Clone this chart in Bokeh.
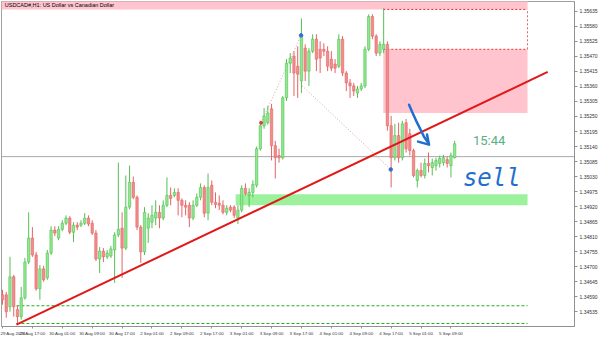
import numpy as np
from bokeh.plotting import figure
from bokeh.models import Range1d, FixedTicker, PrintfTickFormatter, ColumnDataSource, Label
from bokeh.embed import file_html
from bokeh.resources import INLINE
from bokeh.core.properties import value

# ---------------- data (USDCAD H1, 29 Aug 2024 09:00 -> 5 Sep 2024 10:00) ----------------
opens = [
    1.34597, 1.34597, 1.34553, 1.34663, 1.34543, 1.34517, 1.34586, 1.34717, 1.34805, 1.34743,
    1.34619, 1.34692, 1.34659, 1.34750, 1.34834, 1.34805, 1.34837, 1.34859, 1.34878, 1.34826,
    1.34852, 1.34852, 1.34859, 1.34878, 1.34859, 1.34823, 1.34728, 1.34757, 1.34736, 1.34739,
    1.34761, 1.34816, 1.34841, 1.34768, 1.34918, 1.35009, 1.34954, 1.34845, 1.34754, 1.34841,
    1.34863, 1.34878, 1.34899, 1.34878, 1.34925, 1.34961, 1.34961, 1.34972, 1.34943, 1.34925,
    1.34925, 1.34878, 1.34925, 1.34954, 1.34990, 1.34896, 1.34998, 1.34936, 1.34932, 1.34925,
    1.34899, 1.34918, 1.34918, 1.34878, 1.34907, 1.34987, 1.34961, 1.34972, 1.34998, 1.35132,
    1.35216, 1.35227, 1.35278, 1.35143, 1.35107, 1.35099, 1.35318, 1.35445, 1.35471, 1.35434,
    1.35380, 1.35500, 1.35416, 1.35489, 1.35533, 1.35496, 1.35496, 1.35489, 1.35460, 1.35442,
    1.35434, 1.35533, 1.35409, 1.35373, 1.35362, 1.35336, 1.35351, 1.35362, 1.35496, 1.35616,
    1.35544, 1.35482, 1.35496, 1.35514, 1.35216, 1.35099, 1.35180, 1.35099, 1.35227, 1.35187,
    1.35125, 1.35016, 1.35052, 1.35034, 1.35078, 1.35063, 1.35070, 1.35078, 1.35081, 1.35092,
    1.35070, 1.35099,
]
highs = [
    1.34615, 1.34608, 1.34736, 1.34670, 1.34557, 1.34626, 1.34732, 1.34899, 1.34845, 1.34754,
    1.34706, 1.34703, 1.34761, 1.34848, 1.34848, 1.34848, 1.34870, 1.34888, 1.34885, 1.34863,
    1.34863, 1.34870, 1.34896, 1.34888, 1.34870, 1.34834, 1.34772, 1.34768, 1.34761, 1.34776,
    1.34826, 1.35081, 1.34899, 1.35034, 1.35070, 1.35030, 1.34961, 1.34852, 1.34918, 1.34896,
    1.34925, 1.34943, 1.34925, 1.34943, 1.35027, 1.34990, 1.34987, 1.34987, 1.34950, 1.34943,
    1.34936, 1.34943, 1.34968, 1.35005, 1.34998, 1.35041, 1.35016, 1.34972, 1.34961, 1.34943,
    1.34925, 1.34925, 1.34925, 1.34925, 1.34998, 1.35005, 1.34987, 1.35016, 1.35140, 1.35234,
    1.35281, 1.35289, 1.35296, 1.35161, 1.35132, 1.35325, 1.35460, 1.35482, 1.35489, 1.35507,
    1.35609, 1.35514, 1.35500, 1.35551, 1.35551, 1.35525, 1.35518, 1.35507, 1.35489, 1.35460,
    1.35551, 1.35544, 1.35416, 1.35387, 1.35373, 1.35362, 1.35373, 1.35507, 1.35624, 1.35624,
    1.35551, 1.35525, 1.35646, 1.35525, 1.35252, 1.35223, 1.35227, 1.35234, 1.35241, 1.35205,
    1.35132, 1.35059, 1.35081, 1.35096, 1.35118, 1.35096, 1.35099, 1.35107, 1.35110, 1.35103,
    1.35118, 1.35161,
]
lows = [
    1.34561, 1.34513, 1.34535, 1.34517, 1.34488, 1.34506, 1.34579, 1.34710, 1.34736, 1.34612,
    1.34579, 1.34645, 1.34652, 1.34743, 1.34812, 1.34797, 1.34830, 1.34852, 1.34819, 1.34790,
    1.34834, 1.34845, 1.34852, 1.34848, 1.34816, 1.34721, 1.34677, 1.34717, 1.34728, 1.34732,
    1.34641, 1.34808, 1.34659, 1.34761, 1.34910, 1.34947, 1.34834, 1.34714, 1.34743, 1.34787,
    1.34841, 1.34852, 1.34841, 1.34870, 1.34918, 1.34925, 1.34954, 1.34888, 1.34881, 1.34888,
    1.34845, 1.34870, 1.34918, 1.34943, 1.34881, 1.34870, 1.34925, 1.34914, 1.34907, 1.34892,
    1.34888, 1.34899, 1.34878, 1.34856, 1.34899, 1.34961, 1.34918, 1.34954, 1.34990, 1.35125,
    1.35205, 1.35220, 1.35089, 1.35023, 1.35081, 1.35092, 1.35307, 1.35409, 1.35325, 1.35318,
    1.35336, 1.35380, 1.35362, 1.35482, 1.35416, 1.35409, 1.35471, 1.35416, 1.35416, 1.35409,
    1.35427, 1.35398, 1.35343, 1.35318, 1.35325, 1.35318, 1.35343, 1.35354, 1.35489, 1.35533,
    1.35471, 1.35471, 1.35482, 1.35198, 1.34990, 1.35089, 1.35081, 1.35089, 1.35118, 1.35107,
    1.35027, 1.34990, 1.35027, 1.35023, 1.35045, 1.35034, 1.35052, 1.35063, 1.35070, 1.35063,
    1.35027, 1.35096,
]
closes = [
    1.34579, 1.34535, 1.34663, 1.34553, 1.34517, 1.34586, 1.34717, 1.34805, 1.34743, 1.34619,
    1.34692, 1.34652, 1.34750, 1.34834, 1.34823, 1.34837, 1.34859, 1.34878, 1.34826, 1.34852,
    1.34845, 1.34859, 1.34878, 1.34856, 1.34823, 1.34728, 1.34757, 1.34736, 1.34750, 1.34765,
    1.34816, 1.34837, 1.34768, 1.34918, 1.35009, 1.34954, 1.34845, 1.34754, 1.34899, 1.34878,
    1.34888, 1.34899, 1.34878, 1.34925, 1.34961, 1.34950, 1.34972, 1.34943, 1.34925, 1.34918,
    1.34878, 1.34925, 1.34954, 1.34990, 1.34896, 1.34990, 1.34936, 1.34928, 1.34925, 1.34899,
    1.34914, 1.34907, 1.34888, 1.34907, 1.34987, 1.34968, 1.34972, 1.35001, 1.35132, 1.35216,
    1.35252, 1.35263, 1.35143, 1.35099, 1.35099, 1.35318, 1.35445, 1.35464, 1.35409, 1.35405,
    1.35544, 1.35416, 1.35489, 1.35533, 1.35460, 1.35464, 1.35489, 1.35434, 1.35427, 1.35427,
    1.35533, 1.35409, 1.35373, 1.35362, 1.35343, 1.35351, 1.35362, 1.35496, 1.35616, 1.35544,
    1.35482, 1.35514, 1.35514, 1.35216, 1.35099, 1.35180, 1.35099, 1.35223, 1.35132, 1.35125,
    1.35034, 1.35052, 1.35034, 1.35078, 1.35070, 1.35081, 1.35089, 1.35096, 1.35099, 1.35078,
    1.35107, 1.35150,
]

time_labels = ["29 Aug 2024", "29 Aug 17:00", "30 Aug 01:00", "30 Aug 09:00", "30 Aug 17:00",
               "2 Sep 01:00", "2 Sep 09:00", "2 Sep 17:00", "3 Sep 01:00", "3 Sep 09:00",
               "3 Sep 17:00", "4 Sep 01:00", "4 Sep 09:00", "4 Sep 17:00", "5 Sep 01:00",
               "5 Sep 09:00"]
time_label_bars = [0, 8, 16, 24, 32, 40, 48, 56, 64, 72, 80, 88, 96, 104, 112, 120]

price_ticks = [1.34535, 1.34590, 1.34645, 1.34700, 1.34755, 1.34810, 1.34865, 1.34920,
               1.34975, 1.35030, 1.35085, 1.35140, 1.35195, 1.35250, 1.35305, 1.35360,
               1.35415, 1.35470, 1.35525, 1.35580, 1.35635]

current_price = 1.35103

# drawn objects (bar index, price)
resist_band = (1.35642, 1.35680)          # top pink band
supply_box = (101.9, 140.5, 1.35263, 1.35496)
supply_outline_top = 1.35642
demand_band = (62.4, 140.5, 1.34925, 1.34965)
support_lines = [1.34557, 1.34492]
trend_x = [3.73, 145.9]
trend_y = [1.34488, 1.35413]
zig1_x = [69.2, 79.9]
zig1_y = [1.35227, 1.35547]
zig2_x = [80.2, 103.9]
zig2_y = [1.35362, 1.35056]
arrow_x = [108.8, 109.6, 110.67, 111.73, 112.8, 113.87]
arrow_y = [1.35293, 1.35267, 1.35235, 1.35206, 1.35176, 1.35155]
head_x = [111.2, 114.13, 113.6]
head_y = [1.35158, 1.35147, 1.35184]

# ---------------- figure ----------------
X0, X1 = -0.27, 153.07
Y0, Y1 = 1.34481, 1.35671

p = figure(width=600, height=338, x_range=Range1d(X0, X1), y_range=Range1d(Y0, Y1),
           y_axis_location="right", output_backend="svg", toolbar_location=None,
           min_border_left=1, min_border_right=25, min_border_top=1, min_border_bottom=11,
           background_fill_color="white", border_fill_color="white")
p.xgrid.visible = False
p.ygrid.visible = False
p.outline_line_color = "#a0a0a0"

# zones
p.quad(left=[X0], right=[supply_box[1]], bottom=[resist_band[0]], top=[resist_band[1]],
       fill_color="#ffc4ce", line_color=None)
p.quad(left=[supply_box[0]], right=[supply_box[1]], bottom=[supply_box[2]], top=[supply_box[3]],
       fill_color="#ffc4ce", line_color=None)
p.segment(x0=[supply_box[0], supply_box[0]], y0=[supply_box[3], supply_outline_top],
          x1=[supply_box[1], supply_box[1]], y1=[supply_box[3], supply_outline_top],
          line_color="#e03030", line_dash="2 2", line_width=1)
p.segment(x0=[supply_box[1]], y0=[supply_box[3]], x1=[supply_box[1]], y1=[supply_outline_top],
          line_color="#e86060", line_dash="2 2", line_width=1)
p.quad(left=[demand_band[0]], right=[demand_band[1]], bottom=[demand_band[2]], top=[demand_band[3]],
       fill_color="#9cf29c", line_color=None)
for lvl in support_lines:
    p.segment(x0=[trend_x[0]], y0=[lvl], x1=[demand_band[1]], y1=[lvl],
              line_color="#22b022", line_dash="3 2", line_width=1.2)

# current price line
p.segment(x0=[X0], y0=[current_price], x1=[X1], y1=[current_price], line_color="#a8a8a8", line_width=1)

# zigzag
p.line(zig1_x, zig1_y, line_color="#d9a3a3", line_dash="1 2", line_width=1)
p.line(zig2_x, zig2_y, line_color="#d9a3a3", line_dash="1 2", line_width=1)

# candles
idx = list(range(len(opens)))
up = [c >= o for o, c in zip(opens, closes)]
src = ColumnDataSource(dict(
    x=idx, h=highs, l=lows,
    top=[max(o, c) for o, c in zip(opens, closes)],
    bottom=[min(o, c) for o, c in zip(opens, closes)],
    fill=["#90e890" if u else "#f28c8c" for u in up],
    line=["#55bf55" if u else "#e46464" for u in up],
))
p.segment(x0="x", y0="l", x1="x", y1="h", line_color="line", line_width=1, source=src)
p.vbar(x="x", width=0.64, top="top", bottom="bottom", fill_color="fill", line_color="line",
       line_width=0.6, source=src)

# zigzag markers
p.scatter([zig1_x[1], zig2_x[1]], [zig1_y[1], zig2_y[1]], size=3.5, color="#2f6fd0")
p.scatter([zig1_x[0]], [zig1_y[0]], size=3, color="#e04040")

# trend line
p.line(trend_x, trend_y, line_color="#e01818", line_width=2)

# hand-drawn arrow
p.line(arrow_x, arrow_y, line_color="#1f6fce", line_width=2.5, line_cap="round", line_join="round")
p.line(head_x, head_y, line_color="#1f6fce", line_width=2.5, line_cap="round", line_join="round")

# texts
p.text(x=[123.2], y=[1.35023], text=["sell"], text_font=value("DejaVu Sans Mono"),
       text_font_style="italic", text_font_size="24px", text_color="#1f6fce",
       text_baseline="alphabetic", text_align="left")
p.text(x=[125.9], y=[1.35161], text=["15:44"], text_font=value("Roboto"),
       text_font_size="13px", text_color="#5aae84", text_baseline="middle", text_align="left")
p.text(x=[0.6], y=[1.35657], text=["USDCAD#,H1:  US Dollar vs Canadian Dollar"],
       text_font=value("Liberation Sans"), text_font_size="5.5px", text_color="#000000",
       text_baseline="middle", text_align="left")

# current price tag
p.add_layout(Label(x=X1, y=current_price, x_offset=2, text="%.5f" % current_price,
                   text_font_size="5px", text_font="Liberation Sans", text_color="white",
                   text_baseline="middle", background_fill_color="#8c8c8c",
                   padding=1))

# axes
p.yaxis.ticker = FixedTicker(ticks=price_ticks)
p.yaxis.formatter = PrintfTickFormatter(format="%.5f")
p.yaxis.major_label_text_font_size = "5px"
p.yaxis.major_label_text_font = "Liberation Sans"
p.yaxis.major_label_text_color = "#333333"
p.yaxis.major_tick_out = 3
p.yaxis.major_tick_in = 0
p.yaxis.minor_tick_out = 0
p.yaxis.minor_tick_in = 0
p.yaxis.major_label_standoff = 2
p.yaxis.axis_line_color = "#909090"
p.yaxis.major_tick_line_color = "#909090"

p.xaxis.ticker = FixedTicker(ticks=time_label_bars)
p.xaxis.major_label_overrides = {b: t for b, t in zip(time_label_bars, time_labels)}
p.xaxis.major_label_text_align = "left"
p.xaxis.major_label_text_font_size = "4.4px"
p.xaxis.major_label_text_font = "Liberation Sans"
p.xaxis.major_label_text_color = "#333333"
p.xaxis.major_tick_out = 2
p.xaxis.major_tick_in = 0
p.xaxis.minor_tick_out = 0
p.xaxis.minor_tick_in = 0
p.xaxis.major_label_standoff = 2
p.xaxis.axis_line_color = "#909090"
p.xaxis.major_tick_line_color = "#909090"

open("out.html", "w").write(file_html(p, INLINE))
